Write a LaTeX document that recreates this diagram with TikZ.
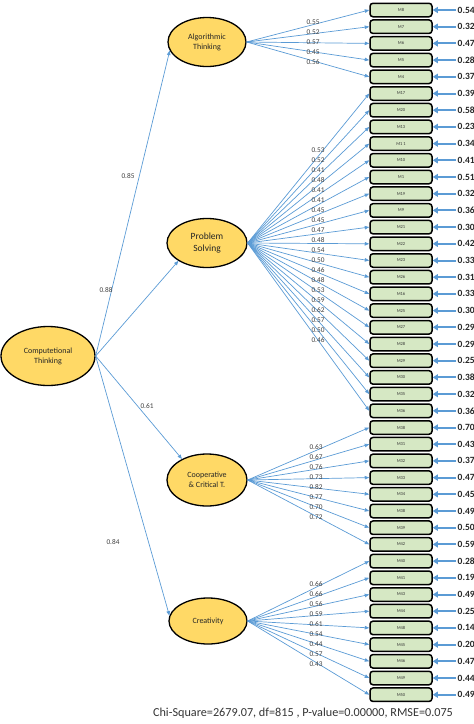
\documentclass[tikz,border=0pt]{standalone}
\usepackage{fontspec}
\setmainfont{Carlito}
\usepackage{tikz}
\usetikzlibrary{arrows.meta, shapes.geometric}

\definecolor{factorfill}{RGB}{255,217,102}
\definecolor{itemfill}{RGB}{214,232,196}
\definecolor{linkblue}{RGB}{91,155,213}
\definecolor{coefgray}{RGB}{64,64,64}

\begin{document}
\begin{tikzpicture}[x=1pt, y=-1pt,
  factor/.style={draw, line width=1.3pt, ellipse, fill=factorfill, minimum width=78pt, minimum height=48pt, inner sep=0pt, align=center, text=black!85, font=\fontsize{8}{10}\selectfont},
  item/.style={draw, line width=1.5pt, rounded corners=3pt, fill=itemfill, minimum width=62pt, minimum height=13.5pt, inner sep=0pt, text=black!80, font=\fontsize{4.5}{5}\selectfont},
  path/.style={-{Triangle[length=4.5pt, width=3.5pt]}, linkblue, line width=0.7pt},
  err/.style={-{Triangle[length=5pt, width=6pt]}, linkblue, line width=2pt},
  coef/.style={inner sep=0pt, text=coefgray, font=\fontsize{7.3}{8}\selectfont},
  errlab/.style={inner sep=0pt, anchor=west, text=black!85, font=\bfseries\fontsize{9.5}{10}\selectfont}
]
\useasboundingbox (0,0) rectangle (474,724);

% latent factors
\node[factor, minimum width=94pt, minimum height=59pt] (ct) at (48,356) {Computetional\\Thinking};
\node[factor, minimum height=49pt] (at) at (207,42) {Algorithmic\\Thinking};
\node[factor, minimum width=80pt, minimum height=49pt, font=\fontsize{9.5}{12}\selectfont] (ps) at (207,243) {Problem\\Solving};
\node[factor, minimum width=80pt, minimum height=52pt] (cc) at (207,480) {Cooperative\\\& Critical T.};
\node[factor, minimum height=46pt] (cr) at (208,621) {Creativity};

% observed items
\foreach \lab [count=\i] in {M8,M7,M6,M5,M4,
    M17,M20,M13,M1 1,M10,M1,M19,M9,M21,M22,M23,M26,M16,M25,M27,M28,M29,M30,M35,M36,
    M38,M31,M32,M33,M34,M38,M39,M42,
    M40,M41,M43,M44,M48,M45,M46,M49,M50}
  \node[item] (m\i) at (401, {10+16.7*(\i-1)}) {\lab};

% error terms
\foreach \e [count=\i] in {0.54,0.32,0.47,0.28,0.37,
    0.39,0.58,0.23,0.34,0.41,0.51,0.32,0.36,0.30,0.42,0.33,0.31,0.33,0.30,0.29,0.29,0.25,0.38,0.32,0.36,
    0.70,0.43,0.37,0.47,0.45,0.49,0.50,0.59,
    0.28,0.19,0.49,0.25,0.14,0.20,0.47,0.44,0.49} {
  \coordinate (e\i) at (456, {10+16.7*(\i-1)});
  \draw[err] (e\i) -- (m\i.east);
  \node[errlab] (el\i) at ([xshift=1.5pt]e\i) {\e};
}

% second-order paths
\draw[path] (ct.east) -- (at.193);
\draw[path] (ct.east) -- (ps.212);
\draw[path] (ct.east) -- (cc.140);
\draw[path] (ct.east) -- (cr.172);
\node[coef] (p1) at (128,176) {0.85};
\node[coef] (p2) at (106,290) {0.88};
\node[coef] (p3) at (147,406) {0.61};
\node[coef] (p4) at (113,542) {0.84};

% loadings
\foreach \c [count=\k] in {0.55,0.52,0.57,0.45,0.56} {
  \draw[path] (at.east) -- (m\k.west);
  \node[coef] (la\k) at (313, {42+10*(\k-3)}) {\c};
}
\foreach \c [count=\k] in {0.53,0.52,0.41,0.48,0.41,0.41,0.45,0.45,0.47,0.48,0.54,0.50,0.46,0.48,0.53,0.59,0.62,0.57,0.50,0.46} {
  \pgfmathtruncatemacro\j{\k+5}
  \draw[path] (ps.east) -- (m\j.west);
  \node[coef] (lp\k) at (318, {245+10*(\k-10.5)}) {\c};
}
\foreach \c [count=\k] in {0.63,0.67,0.76,0.73,0.82,0.77,0.70,0.72} {
  \pgfmathtruncatemacro\j{\k+25}
  \draw[path] (cc.east) -- (m\j.west);
  \node[coef] (lc\k) at (316, {482+10*(\k-4.5)}) {\c};
}
\foreach \c [count=\k] in {0.66,0.66,0.56,0.59,0.61,0.54,0.44,0.57,0.43} {
  \pgfmathtruncatemacro\j{\k+33}
  \draw[path] (cr.east) -- (m\j.west);
  \node[coef] (lr\k) at (316, {624+10*(\k-5)}) {\c};
}

\node[font=\fontsize{12.2}{14}\selectfont, text=black!80] (fit) at (303,713) {Chi-Square=2679.07, df=815 , P-value=0.00000, RMSE=0.075};
\end{tikzpicture}
\end{document}
